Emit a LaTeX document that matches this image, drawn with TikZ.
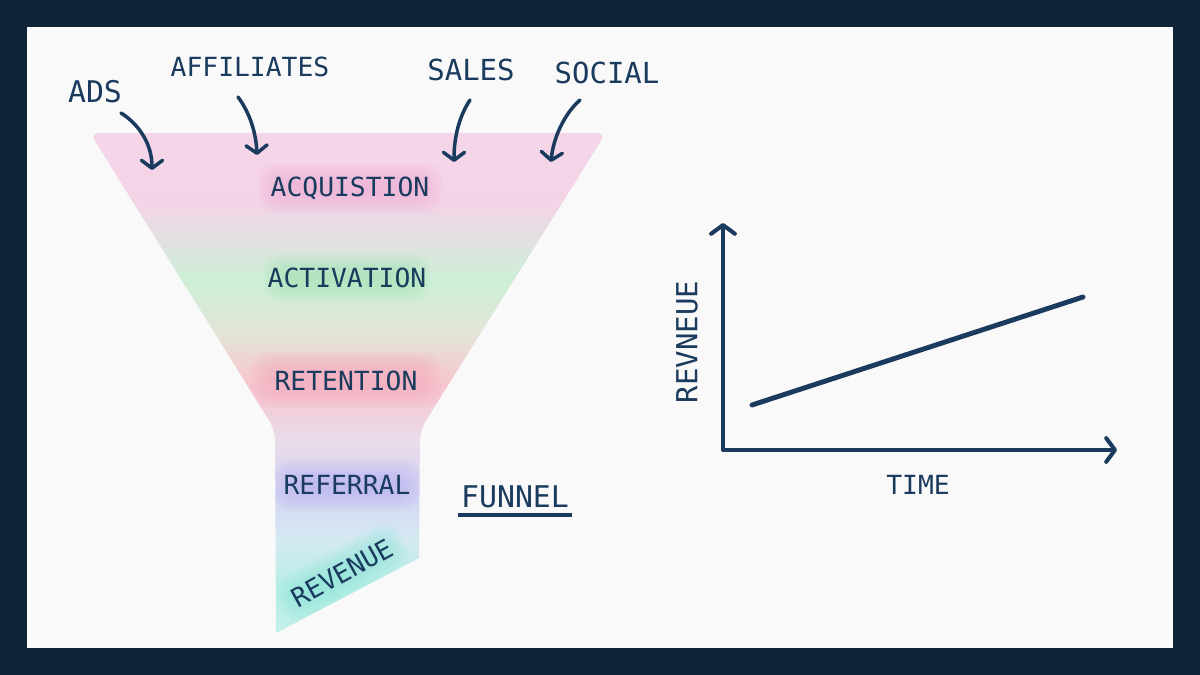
\documentclass[tikz,border=0pt]{standalone}
\usepackage{fontspec}
\setmainfont{DejaVu Sans Mono}
\usetikzlibrary{arrows.meta}
\definecolor{navy}{HTML}{0F2339}
\definecolor{panel}{HTML}{F9F9FA}
\definecolor{ink}{HTML}{1A3B5D}
\definecolor{gAcq}{HTML}{EEAED6}
\definecolor{gAct}{HTML}{A6E4B7}
\definecolor{gRet}{HTML}{F4ADBF}
\definecolor{gRef}{HTML}{BAB5F0}
\definecolor{gRev}{HTML}{8FE6D9}
\definecolor{fa}{HTML}{C4F0EA}
\definecolor{fb}{HTML}{B5EDE5}
\definecolor{fc}{HTML}{D4EAF1}
\definecolor{fd}{HTML}{D4D2F4}
\definecolor{fe}{HTML}{EADCEA}
\definecolor{ff}{HTML}{F8C5CF}
\definecolor{fg}{HTML}{E2E6D8}
\definecolor{fh}{HTML}{CDEFD6}
\definecolor{fi}{HTML}{E3DFE2}
\definecolor{fj}{HTML}{F5D3E7}
\definecolor{fk}{HTML}{F5D6E8}
\pgfdeclareverticalshading{funnelshade}{100bp}{%
 color(0bp)=(fa); color(25bp)=(fa); color(29.3bp)=(fb); color(34.3bp)=(fc);
 color(39.3bp)=(fd); color(44.3bp)=(fe); color(49.8bp)=(ff); color(55.3bp)=(fg);
 color(60.3bp)=(fh); color(64.8bp)=(fi); color(68.3bp)=(fj); color(75bp)=(fk);
 color(100bp)=(fk)}
\newcommand\haze[6][0]{%
 \begin{scope}[shift={(#2,#3)},rotate=#1]
  \foreach \k in {0,...,7}{
   \fill[#6, opacity=0.13, rounded corners=9pt]
     ({-#4-\k*3},{-#5-\k*3}) rectangle ({#4+\k*3},{#5+\k*3});
  }
 \end{scope}}
\newcommand\funnelpath{(348,133) [rounded corners=5pt] -- (606,133) [rounded corners=6pt]
  -- (420,430) [sharp corners] -- (419,558) -- (276,633) [rounded corners=6pt]
  -- (275,430) [rounded corners=5pt] -- (90,133) -- cycle}
\tikzset{axtip/.tip={Straight Barb[length=5pt,width=13.5pt,line width=2.3pt,round]},
         intip/.tip={Straight Barb[length=4.5pt,width=12pt,line width=2pt,round]}}
\begin{document}
\begin{tikzpicture}[x=0.02cm,y=-0.02cm,
  lbl/.style={text=ink, font=\fontsize{15}{17}\selectfont, inner sep=0pt},
  inflow/.style={draw=ink, line width=2pt, line cap=round, -intip},
  axis/.style={draw=ink, line width=2.3pt, line cap=round, line join=round}]
\useasboundingbox (0,0) rectangle (1200,675);
\fill[navy] (0,0) rectangle (1200,675);
\fill[panel] (27,27) rectangle (1173,648);
% funnel body
\path[shading=funnelshade] \funnelpath;
% glows, kept inside the funnel
\begin{scope}
\clip \funnelpath;
\haze{350}{188}{70}{4}{gAcq}
\haze{347}{278}{62}{3}{gAct}
\haze{346}{380}{74}{7}{gRet}
\haze{347}{485}{52}{4}{gRef}
\haze[29]{342}{573}{48}{3}{gRev}
\end{scope}
% funnel labels
\node[lbl] (acq) at (350,188) {ACQUISTION};
\node[lbl] (act) at (347,278) {ACTIVATION};
\node[lbl] (ret) at (346,381) {RETENTION};
\node[lbl] (ref) at (347,485) {REFERRAL};
\node[lbl, rotate=29] (rev) at (342,573) {REVENUE};
\node[lbl, font=\fontsize{17}{19}\selectfont] (fun) at (515,497) {FUNNEL};
\coordinate (ulA) at (458,515);
\coordinate (ulB) at (572,515);
\draw[ink, line width=2.3pt] (ulA) -- (ulB);
% sources
\node[lbl, font=\fontsize{17}{19}\selectfont] (ads) at (95,92) {ADS};
\node[lbl] (aff) at (250,67) {AFFILIATES};
\node[lbl, font=\fontsize{16.5}{19}\selectfont] (sal) at (471,70) {SALES};
\node[lbl, font=\fontsize{16.5}{19}\selectfont] (soc) at (607,73) {SOCIAL};
\coordinate (adsT) at (152,170);
\coordinate (affT) at (257,155);
\coordinate (salT) at (454,162);
\coordinate (socT) at (551,162);
\draw[inflow] (121,113) .. controls (140,125) and (152,145) .. (adsT);
\draw[inflow] (238,97) .. controls (250,113) and (256,133) .. (affT);
\draw[inflow] (470,100) .. controls (458,118) and (454,140) .. (salT);
\draw[inflow] (580,100) .. controls (563,115) and (553,140) .. (socT);
% chart
\coordinate (ytop) at (723,223);
\coordinate (orig) at (723,450);
\coordinate (xend) at (1117,450);
\draw[axis, axtip-axtip] (ytop) -- (orig) -- (xend);
\coordinate (l1) at (752,405);
\coordinate (l2) at (1083,297);
\draw[ink, line width=2.8pt, line cap=round] (l1) -- (l2);
\node[lbl] (time) at (918,485) {TIME};
\node[lbl, rotate=90, font=\fontsize{16.5}{19}\selectfont] (yl) at (687,342) {REVNEUE};
\end{tikzpicture}
\end{document}
